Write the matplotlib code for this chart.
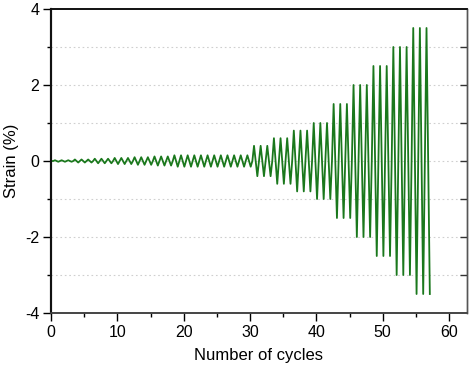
import matplotlib
matplotlib.use('Agg')
import matplotlib.pyplot as plt
import numpy as np

plt.rcParams['font.family'] = ['Liberation Sans', 'DejaVu Sans']

# strain amplitude (%) of each loading cycle, 57 cycles
cycle_amplitude = ([0.02] * 3 + [0.04] * 3 + [0.06] * 3 + [0.08] * 3 + [0.10] * 3
                   + [0.12] * 3 + [0.15] * 12
                   + [0.4] * 3 + [0.6] * 3 + [0.8] * 3 + [1.0] * 3 + [1.5] * 3
                   + [2.0] * 3 + [2.5] * 3 + [3.0] * 3 + [3.5] * 3)
phase_offset = 0.35  # first zero crossing of the triangle wave (cycles)

x_ticks = [0, 10, 20, 30, 40, 50, 60]
y_ticks = [-4, -2, 0, 2, 4]

# build the triangular strain history from the cycle amplitudes
xs = [0.0]
ys = [0.0]
for i, a in enumerate(cycle_amplitude):
    x0 = phase_offset + i
    xs += [x0, x0 + 0.25, x0 + 0.5, x0 + 0.75]
    ys += [0.0, a, 0.0, -a]

fig = plt.figure(figsize=(4.74, 3.67), dpi=100)
ax = fig.add_axes([0.1076, 0.1471, 0.8776, 0.8284])

for g in [-3, -2, -1, 0, 1, 2, 3]:
    ax.axhline(g, color='#cfcfcf', lw=0.8, ls=(0, (1.5, 2.5)), zorder=0)

ax.plot(xs, ys, color='#1a781c', lw=1.3, zorder=2)

ax.set_xlim(0, 62.7)
ax.set_ylim(-4, 4)
ax.set_xticks(x_ticks)
ax.set_xticks([5, 15, 25, 35, 45, 55], minor=True)
ax.set_yticks(y_ticks)
ax.set_yticks([-3, -1, 1, 3], minor=True)
ax.set_yticklabels([str(v) for v in y_ticks])
ax.tick_params(axis='both', which='major', labelsize=11.5, length=5.5, width=1.0,
               direction='out', pad=3)
ax.tick_params(axis='both', which='minor', length=3, width=1.0, direction='out')

ax.set_xlabel('Number of cycles', fontsize=12, labelpad=6)
ax.set_ylabel('Strain (%)', fontsize=12, labelpad=4)

# right-hand axis with inward ticks at every unit
ax2 = ax.twinx()
ax2.set_ylim(-4, 4)
ax2.set_yticks([-3, -2, -1, 0, 1, 2, 3])
ax2.set_yticklabels([])
ax2.tick_params(axis='y', direction='in', length=5, width=1.0, color='#333333')

for a in (ax, ax2):
    a.spines['left'].set_color('#111111')
    a.spines['left'].set_linewidth(1.5)
    a.spines['top'].set_color('#111111')
    a.spines['top'].set_linewidth(1.2)
    a.spines['right'].set_color('#555555')
    a.spines['right'].set_linewidth(1.0)
    a.spines['bottom'].set_color('#444444')
    a.spines['bottom'].set_linewidth(1.2)

fig.savefig('out.png', dpi=100)
